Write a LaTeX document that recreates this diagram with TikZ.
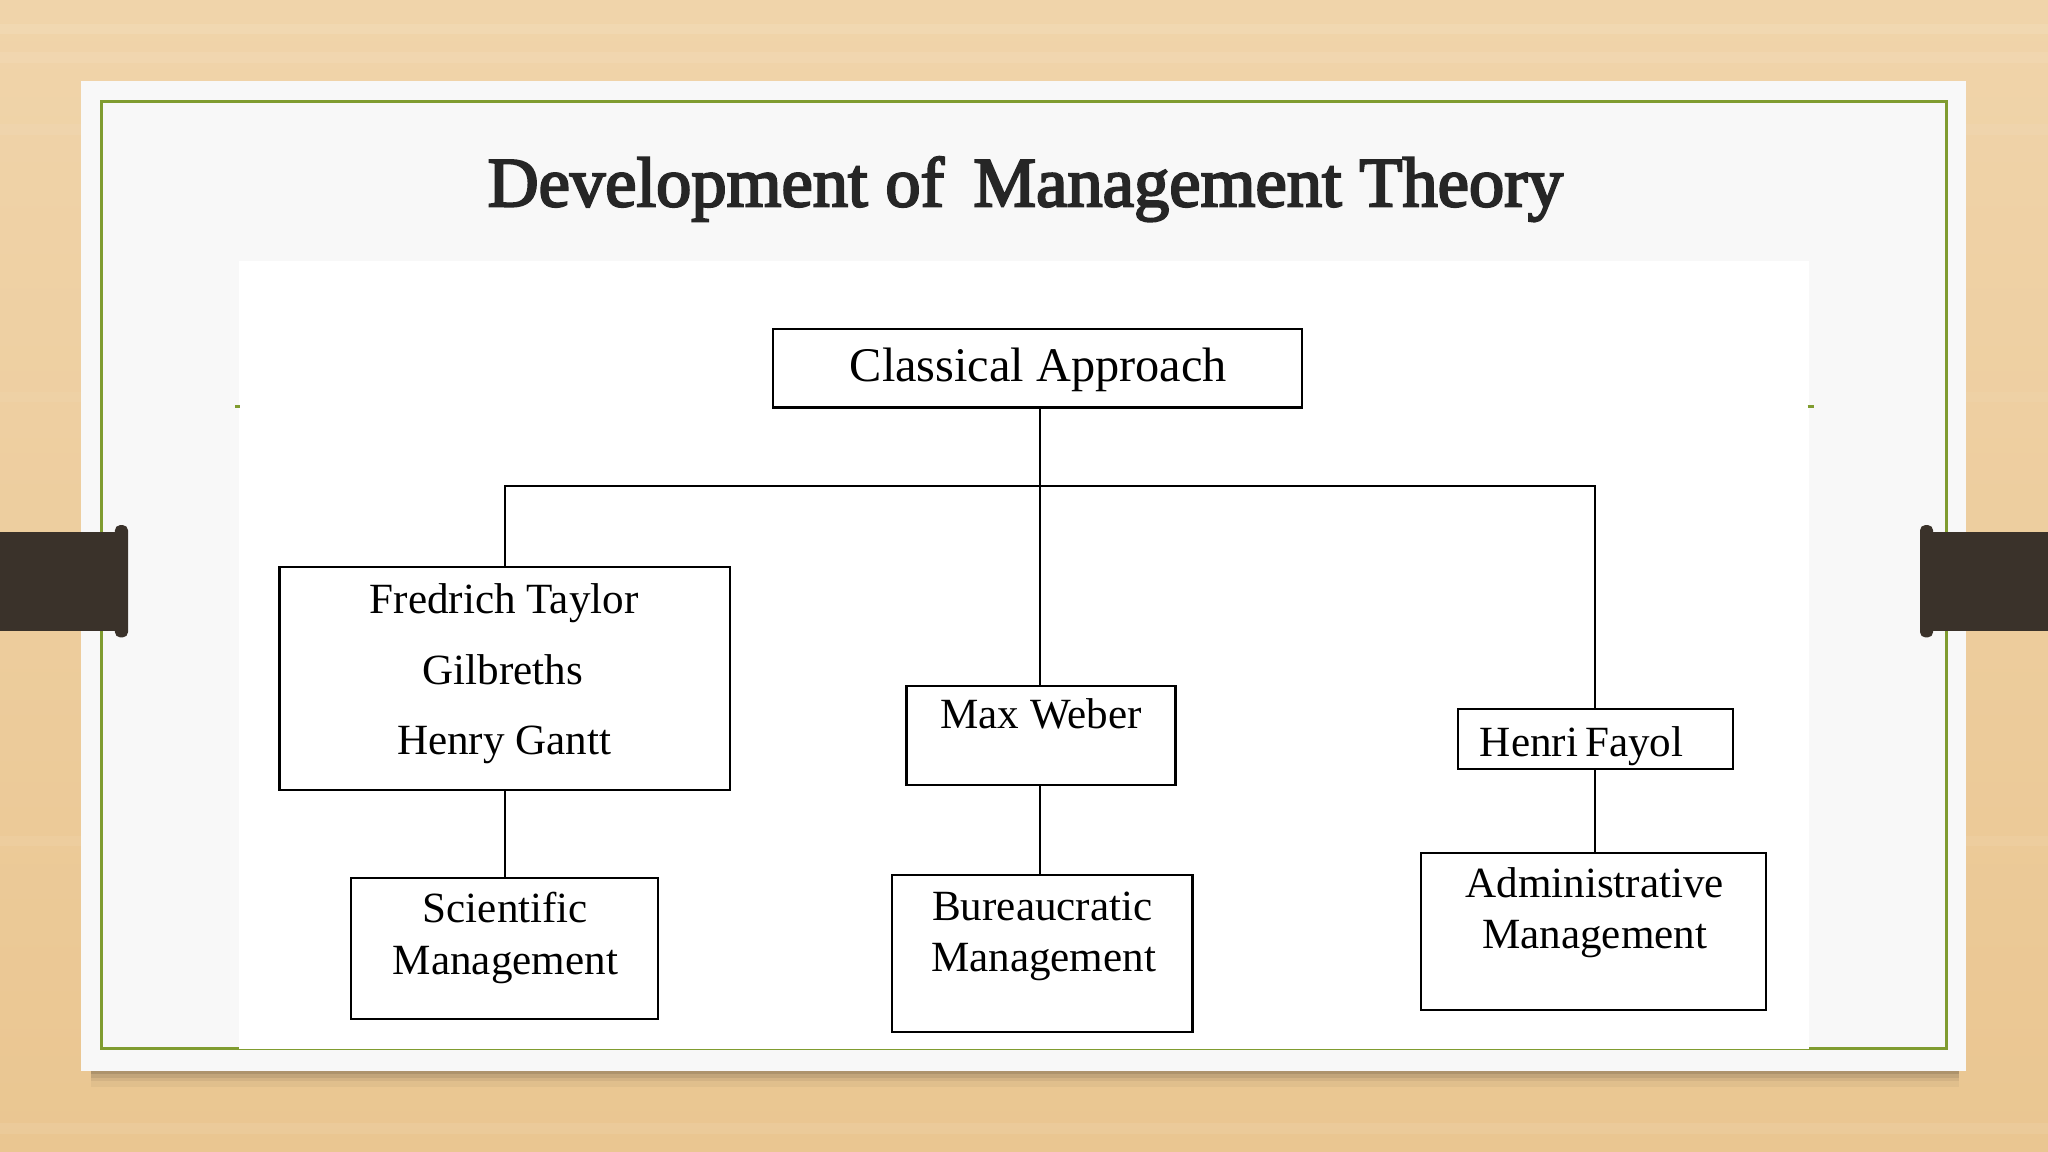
\documentclass[tikz,border=0pt]{standalone}
\usepackage{fontspec}
\setmainfont{Liberation Serif}
\newfontfamily\titlefont[FakeBold=3]{Liberation Serif}
\definecolor{wood}{RGB}{234,198,145}
\definecolor{woodlight}{RGB}{240,212,170}
\definecolor{card}{RGB}{248,248,248}
\definecolor{olive}{RGB}{128,156,48}
\definecolor{band}{RGB}{58,50,42}
\definecolor{ttl}{RGB}{38,38,38}
\tikzset{
  box/.style={draw=black, line width=0.8pt, fill=white, inner sep=0pt, rectangle},
  txt/.style={inner sep=0pt, anchor=base, font=\fontsize{16.5}{18}\selectfont},
  link/.style={draw=black, line width=0.8pt},
}
\begin{document}
\begin{tikzpicture}[x=0.5pt,y=-0.5pt]
\useasboundingbox (0,0) rectangle (1568,882);
% wood background
\fill[top color=woodlight, bottom color=wood] (0,0) rectangle (1568,882);
\foreach \yy/\op in {18/0.10, 40/0.08, 95/0.06, 300/0.05, 640/0.06, 860/0.08} {
  \fill[white, opacity=\op] (0,\yy) rectangle (1568,\yy+8);
}
% shadow of card
\foreach \d/\op in {2/0.10, 5/0.08, 8/0.06, 12/0.04} {
  \fill[black, opacity=\op] (70,820) rectangle (1500,820+\d);
}
% card
\fill[card] (62,62) rectangle (1505,820);
% green frame
\draw[olive, line width=1.2pt] (78,78) rectangle (1490,803);
% picture area
\fill[white] (183,200) rectangle (1385,803);
\draw[olive, line width=1.2pt] (180,311) -- (184,311);
\draw[olive, line width=1.2pt] (1384,311) -- (1389,311);
% bands
\fill[band] (0,407) rectangle (97,483);
\fill[band, rounded corners=2pt] (88,402) rectangle (98,488);
\fill[band] (1471,407) rectangle (1568,483);
\fill[band, rounded corners=2pt] (1470,402) rectangle (1480,488);
% title
\node[inner sep=0pt, anchor=base, text=ttl] (title) at (785,158)
  {\titlefont\fontsize{27}{30}\selectfont Development of\ \,Management Theory};
% boxes
\node[box, minimum width=202.5pt, minimum height=30pt] (ca) at (794.5,282) {};
\node[box, minimum width=172.5pt, minimum height=85.5pt] (ft) at (386.5,519.5) {};
\node[box, minimum width=103pt, minimum height=38pt] (mw) at (797,563) {};
\node[box, minimum width=105.5pt, minimum height=23pt] (hf) at (1221.5,566) {};
\node[box, minimum width=117.5pt, minimum height=54pt] (sm) at (386.5,726) {};
\node[box, minimum width=115pt, minimum height=60pt] (bm) at (798,730) {};
\node[box, minimum width=132pt, minimum height=60pt] (am) at (1220,713) {};
% texts
\node[txt, font=\fontsize{18.5}{20}\selectfont] (tca) at (795,292) {Classical Approach};
\node[txt] (tft1) at (386,470) {Fredrich Taylor};
\node[txt] (tft2) at (385,524) {Gilbreths};
\node[txt] (tft3) at (386,578) {Henry Gantt};
\node[txt] (tmw) at (797,558) {Max Weber};
\node[txt] (thf) at (1211,579) {Henri\,Fayol};
\node[txt] (tsm1) at (387,706) {Scientific};
\node[txt] (tsm2) at (387,746) {Management};
\node[txt] (tbm1) at (798,705) {Bureaucratic};
\node[txt] (tbm2) at (799,744) {Management};
\node[txt] (tam1) at (1221,687) {Administrative};
\node[txt] (tam2) at (1221,726) {Management};
% connectors
\coordinate (bar) at (796,372);
\draw[link] (ca.south -| bar) -- (mw.north -| bar);
\draw[link] (ft.north) -- (ft.north |- bar) -- (hf.north |- bar) -- (hf.north);
\draw[link] (ft.south) -- (sm.north);
\draw[link] (mw.south -| bar) -- (bm.north -| bar);
\draw[link] (hf.south -| 1221,0) -- (am.north -| 1221,0);
\end{tikzpicture}
\end{document}
